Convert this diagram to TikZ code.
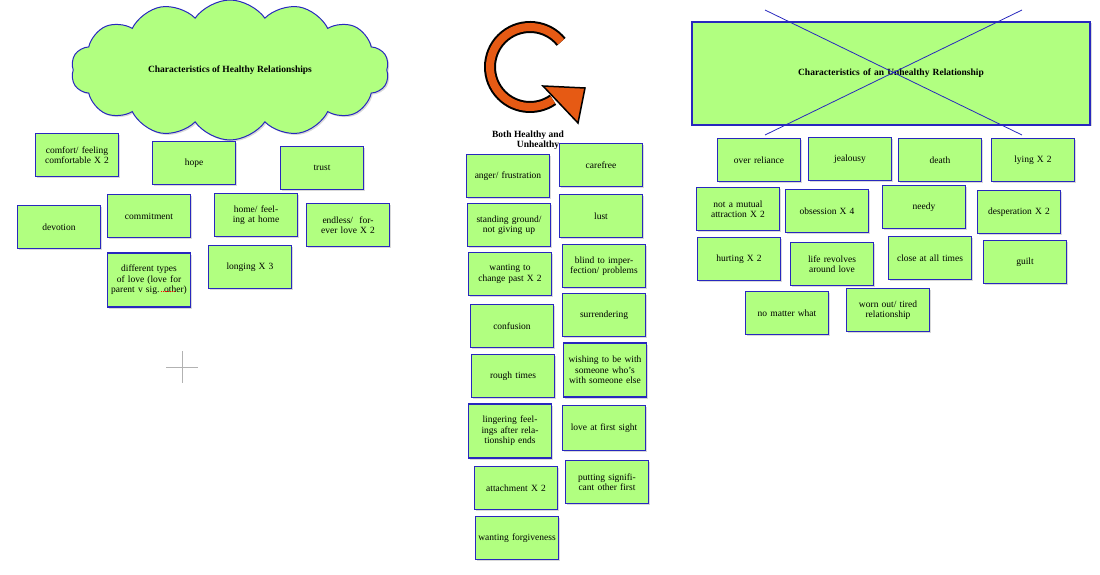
\documentclass[tikz,border=0pt]{standalone}
\usepackage{fontspec}
\setmainfont{Liberation Serif}
\usetikzlibrary{shapes.symbols,shadows}
\definecolor{bgreen}{RGB}{177,255,128}
\definecolor{bblue}{RGB}{40,40,190}
\definecolor{arr}{RGB}{230,90,20}
\begin{document}
\begin{tikzpicture}[x=1pt,y=-1pt,
  box/.style={draw=bblue,fill=bgreen,line width=1.1pt,minimum width=83pt,minimum height=43pt,
    text width=80pt,align=center,inner sep=1pt,font=\fontsize{9.5}{10.5}\selectfont,
    drop shadow={shadow xshift=1.5pt,shadow yshift=-1.5pt,opacity=0.3}},
  tall/.style={box,minimum height=54pt}]
\useasboundingbox (0,0) rectangle (1100,575);
% cloud
\node[cloud,cloud puffs=14,cloud puff arc=110,aspect=2.4,draw=bblue,fill=bgreen,line width=1pt,
  minimum width=318pt,minimum height=140pt,font=\bfseries\fontsize{9.5}{11}\selectfont,
  drop shadow={shadow xshift=1.5pt,shadow yshift=-1.5pt,opacity=0.3}] (cl) at (230,70) {Characteristics of Healthy Relationships};
% left
\node[box] (a1) at (77,155) {comfort/ feeling comfortable X 2};
\node[box] (a2) at (194,163) {hope};
\node[box] (a3) at (322,168) {trust};
\node[box] (a4) at (59,227) {devotion};
\node[box] (a5) at (149,216) {commitment};
\node[box] (a6) at (256,215) {home/ feeling at home};
\node[box] (a7) at (348,225) {endless/\ \ forever love X 2};
\node[tall] (a8) at (149,280) {different types of love (love for parent v sig. other)};
\node[box] (a9) at (250,267) {longing X 3};
\draw[red,densely dotted,line width=0.8pt] (161,291.5) -- (175,291.5);
% crosshair
\draw[gray!60,line width=0.6pt] (166,367) -- (198,367) (182,351) -- (182,383);
% arrow
\draw[black,line width=12pt] (530,67) ++(-39:40) arc[start angle=-39,end angle=-305,radius=40];
\draw[arr,line width=8pt] (530,67) ++(-39:40) arc[start angle=-39,end angle=-305,radius=40];
\draw[black,line width=1.5pt,fill=arr] (543,86) -- (585,88) -- (578,123) -- cycle;
\node[font=\bfseries\fontsize{9.5}{10.5}\selectfont,align=center] (bh) at (528,140) {Both Healthy and\\\hspace*{20pt}Unhealthy};
% middle
\node[box] (m1) at (508,176) {anger/ frustration};
\node[box] (m2) at (509,225) {standing ground/ not giving up};
\node[box] (m3) at (510,274) {wanting to change past X 2};
\node[box] (m4) at (512,326) {confusion};
\node[box] (m5) at (513,376) {rough times};
\node[tall] (m6) at (510,431) {lingering feelings after relationship ends};
\node[box] (m7) at (516,488) {attachment X 2};
\node[box] (m8) at (517,538) {wanting forgiveness};
\node[box] (n1) at (601,165) {carefree};
\node[box] (n2) at (601,216) {lust};
\node[box] (n3) at (604,266) {blind to imperfection/ problems};
\node[box] (n4) at (604,315) {surrendering};
\node[tall] (n5) at (605,370) {wishing to be with someone who's with someone else};
\node[box,minimum height=45pt] (n6) at (604,428) {love at first sight};
\node[box] (n7) at (607,482) {putting significant other first};
% right
\node[box,minimum width=398pt,minimum height=103pt,text width=390pt,font=\bfseries\fontsize{9.5}{11}\selectfont] (t) at (891,73.5) {Characteristics of an Unhealthy Relationship};
\coordinate (x1) at (765,10); \coordinate (x2) at (1022,135);
\coordinate (x3) at (1022,10); \coordinate (x4) at (765,135);
\draw[bblue,line width=0.8pt] (x1) -- (x2) (x3) -- (x4);
\node[box] (r1) at (759,160) {over reliance};
\node[box] (r2) at (850,159) {jealousy};
\node[box] (r3) at (940,160) {death};
\node[box] (r4) at (1033,160) {lying X 2};
\node[box] (r5) at (738,209) {not a mutual attraction X 2};
\node[box] (r6) at (827,211) {obsession X 4};
\node[box] (r7) at (924,207) {needy};
\node[box] (r8) at (1019,212) {desperation X 2};
\node[box] (r9) at (739,259) {hurting X 2};
\node[box] (r10) at (832,264) {life revolves around love};
\node[box] (r11) at (930,258) {close at all times};
\node[box] (r12) at (1025,262) {guilt};
\node[box] (r13) at (787,313) {no matter what};
\node[box] (r14) at (888,310) {worn out/ tired relationship};
\end{tikzpicture}
\end{document}
